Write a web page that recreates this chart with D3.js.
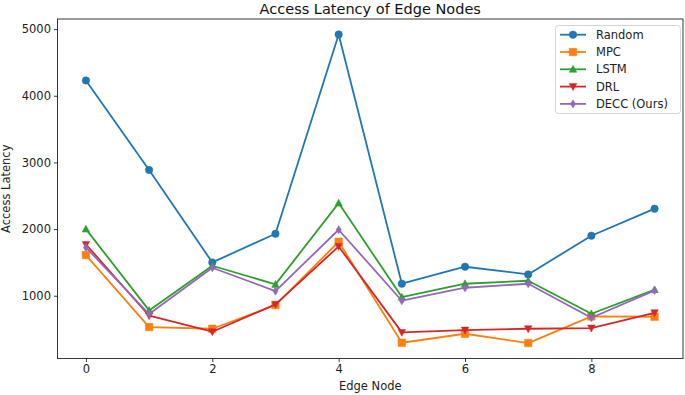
<!DOCTYPE html>
<html>
<head>
<meta charset="utf-8">
<script src="https://cdn.jsdelivr.net/npm/d3@7"></script>
<style>
  html, body { margin: 0; padding: 0; background: #fff; }
  svg { display: block; font-family: "DejaVu Sans", sans-serif; }
</style>
</head>
<body>
<svg id="chart" width="685" height="395"></svg>
<script>
const nodes = [0, 1, 2, 3, 4, 5, 6, 7, 8, 9];
const randomVals = [4230, 2885, 1500, 1930, 4920, 1180, 1435, 1320, 1900, 2305];
const mpcVals    = [1610, 530, 505, 860, 1810, 295, 430, 290, 690, 685];
const lstmVals   = [2000, 780, 1450, 1170, 2390, 980, 1180, 1225, 730, 1090];
const drlVals    = [1770, 700, 460, 870, 1740, 450, 485, 505, 515, 745];
const deccVals   = [1725, 725, 1420, 1070, 1990, 925, 1120, 1180, 670, 1080];
const seriesNames = ["Random", "MPC", "LSTM", "DRL", "DECC (Ours)"];
const seriesColors = ["#1f77b4", "#ff7f0e", "#2ca02c", "#d62728", "#9467bd"];
const seriesMarkers = ["circle", "square", "triangleUp", "triangleDown", "thinDiamond"];
const xTicks = [0, 2, 4, 6, 8];
const yTicks = [1000, 2000, 3000, 4000, 5000];
const chartTitle = "Access Latency of Edge Nodes";
const xLabel = "Edge Node";
const yLabel = "Access Latency";

(function () {
const allSeries = [randomVals, mpcVals, lstmVals, drlVals, deccVals];

const pL = 57.5, pR = 683, pT = 19, pB = 358.5;
const svg = d3.select("#chart");

const x = d3.scaleLinear().domain([-0.45, 9.45]).range([pL, pR]);
const allV = allSeries.flat();
const vmin = d3.min(allV), vmax = d3.max(allV);
const pad = (vmax - vmin) * 0.05;
const y = d3.scaleLinear().domain([vmin - pad, vmax + pad]).range([pB, pT]);

const fs = 11.5;

const xAxis = d3.axisBottom(x).tickValues(xTicks).tickSize(3.5).tickPadding(3).tickFormat(d3.format("d"));
const yAxis = d3.axisLeft(y).tickValues(yTicks).tickSize(3.5).tickPadding(3).tickFormat(d3.format("d"));

const gx = svg.append("g").attr("transform", `translate(0,${pB})`).call(xAxis);
const gy = svg.append("g").attr("transform", `translate(${pL},0)`).call(yAxis);
[gx, gy].forEach(g => {
  g.select(".domain").remove();
  g.selectAll("line").attr("stroke", "#222").attr("stroke-width", 0.9);
  g.selectAll("text").attr("fill", "#222").style("font-size", fs + "px").style("font-family", "DejaVu Sans");
});

svg.append("defs").append("clipPath").attr("id", "clip")
  .append("rect").attr("x", pL).attr("y", pT).attr("width", pR - pL).attr("height", pB - pT);

const markerPath = (type, s) => {
  const r = s / 2;
  switch (type) {
    case "circle": return d3.symbol().type(d3.symbolCircle).size(Math.PI * r * r)();
    case "square": return `M${-r},${-r}H${r}V${r}H${-r}Z`;
    case "triangleUp": return `M0,${-r * 1.05}L${r},${r * 0.8}L${-r},${r * 0.8}Z`;
    case "triangleDown": return `M0,${r * 1.05}L${r},${-r * 0.8}L${-r},${-r * 0.8}Z`;
    case "thinDiamond": return `M0,${-r * 1.1}L${r * 0.7},0L0,${r * 1.1}L${-r * 0.7},0Z`;
  }
};
const msize = 7.5;

const plotG = svg.append("g").attr("clip-path", "url(#clip)");
const line = d3.line().x((d, i) => x(nodes[i])).y(d => y(d));

allSeries.forEach((vals, si) => {
  const g = plotG.append("g");
  g.append("path").datum(vals).attr("d", line)
    .attr("fill", "none").attr("stroke", seriesColors[si]).attr("stroke-width", 1.8)
    .attr("stroke-linejoin", "round").attr("stroke-linecap", "square");
  g.selectAll("path.m").data(vals).enter().append("path").attr("class", "m")
    .attr("d", markerPath(seriesMarkers[si], msize))
    .attr("transform", (d, i) => `translate(${x(nodes[i])},${y(d)})`)
    .attr("fill", seriesColors[si]).attr("stroke", seriesColors[si]).attr("stroke-width", 0.5);
});

svg.append("rect").attr("x", pL).attr("y", pT).attr("width", pR - pL).attr("height", pB - pT)
  .attr("fill", "none").attr("stroke", "#222").attr("stroke-width", 0.9);

svg.append("text").attr("x", (pL + pR) / 2).attr("y", 13.5).attr("text-anchor", "middle")
  .style("font-size", "14.5px").attr("fill", "#111").text(chartTitle);
svg.append("text").attr("x", (pL + pR) / 2).attr("y", 390).attr("text-anchor", "middle")
  .style("font-size", fs + "px").attr("fill", "#222").text(xLabel);
svg.append("text").attr("transform", `translate(10,${(pT + pB) / 2}) rotate(-90)`).attr("text-anchor", "middle")
  .style("font-size", fs + "px").attr("fill", "#222").text(yLabel);

const lg = svg.append("g");
lg.append("rect").attr("x", 555.5).attr("y", 25.5).attr("width", 125).attr("height", 88)
  .attr("rx", 3).attr("fill", "#fff").attr("fill-opacity", 0.8).attr("stroke", "#d0d0d0").attr("stroke-width", 0.9);
seriesNames.forEach((name, i) => {
  const yy = 34.7 + i * 17.3;
  lg.append("line").attr("x1", 560).attr("x2", 586).attr("y1", yy).attr("y2", yy)
    .attr("stroke", seriesColors[i]).attr("stroke-width", 1.8);
  lg.append("path").attr("d", markerPath(seriesMarkers[i], msize))
    .attr("transform", `translate(573,${yy})`).attr("fill", seriesColors[i]).attr("stroke", seriesColors[i]).attr("stroke-width", 0.5);
  lg.append("text").attr("x", 596).attr("y", yy + 4).style("font-size", fs + "px").attr("fill", "#222").text(name);
});
})();
</script>
</body>
</html>
